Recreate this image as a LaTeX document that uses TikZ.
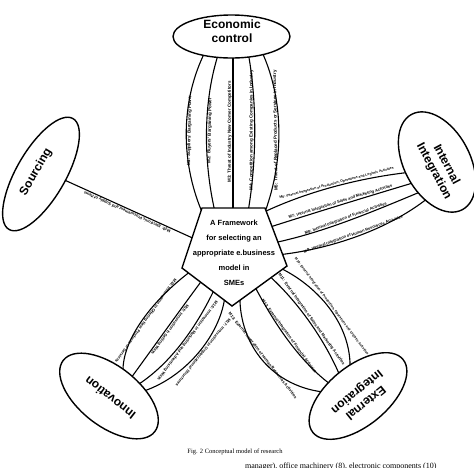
\documentclass[tikz,border=0pt]{standalone}
\usepackage{fontspec}
\setmainfont{Liberation Serif}
\setsansfont{Liberation Sans}
\usetikzlibrary{shapes.geometric}
\tikzset{
  petal/.style={draw, ellipse, line width=1.4pt, fill=white, inner sep=0pt},
  ptxt/.style={font=\sffamily\bfseries\fontsize{12}{14}\selectfont, align=center, inner sep=0pt},
  link/.style={line width=1.1pt},
  lab/.style={font=\sffamily\bfseries\fontsize{4}{4}\selectfont, sloped, allow upside down, inner sep=0.6pt},
  labe/.style={lab, font=\sffamily\bfseries\fontsize{4.5}{4.5}\selectfont},
  labs/.style={lab, font=\sffamily\bfseries\fontsize{3.4}{3.4}\selectfont},
}
\begin{document}
\begin{tikzpicture}[x=1pt,y=-1pt]
\useasboundingbox (0,0) rectangle (474,467);
% pentagon corners
\coordinate (p1) at (202,208);
\coordinate (p2) at (265,208);
\coordinate (p3) at (287,266);
\coordinate (p4) at (232,306);
\coordinate (p5) at (182,268);
% economic control bundle
\coordinate (e1s) at (202,212); \coordinate (e1e) at (205,52);
\coordinate (e2s) at (215,212); \coordinate (e2e) at (219,52);
\coordinate (e3s) at (233,212); \coordinate (e3e) at (233,52);
\coordinate (e4s) at (248,212); \coordinate (e4e) at (248,52);
\coordinate (e5s) at (265,212); \coordinate (e5e) at (262,52);
% internal integration bundle
\coordinate (i1s) at (262,213); \coordinate (i1e) at (412,172);
\coordinate (i2s) at (267,228); \coordinate (i2e) at (416,182);
\coordinate (i3s) at (273,243); \coordinate (i3e) at (420,192);
\coordinate (i4s) at (277,255); \coordinate (i4e) at (428,198);
% external integration bundle
\coordinate (x1s) at (276,266); \coordinate (x1e) at (350,370);
\coordinate (x2s) at (266,273); \coordinate (x2e) at (340,376);
\coordinate (x3s) at (253,283); \coordinate (x3e) at (330,384);
\coordinate (x4s) at (240,293); \coordinate (x4e) at (323,392);
% innovation bundle
\coordinate (n1s) at (191,271); \coordinate (n1e) at (123,372);
\coordinate (n2s) at (203,279); \coordinate (n2e) at (131,378);
\coordinate (n3s) at (215,288); \coordinate (n3e) at (139,384);
\coordinate (n4s) at (225,295); \coordinate (n4e) at (144,391);
% sourcing
\coordinate (s1s) at (197,240); \coordinate (s1e) at (60,178);

% ---- connectors
\draw[link] (e1s) .. controls (180,160) and (181,100) .. (e1e) node[labe, midway, below]{M1: Suppliers' Bargaining Power};
\draw[link] (e2s) .. controls (203,160) and (203,100) .. (e2e) node[labe, midway, below]{M2: Buyers' Bargaining Power};
\draw[link] (e3s) -- (e3e) node[labe, midway, above]{M3: Threat of Industry New Comer Competitors};
\draw[link] (e4s) .. controls (257,160) and (257,100) .. (e4e) node[labe, midway, above]{M4: Competition among Existing Companies in Industry};
\draw[link] (e5s) .. controls (284,160) and (284,100) .. (e5e) node[labe, midway, above]{M5: Threat of Replaced Products or Services in Industry};

\draw[link] (i1s) .. controls (310,190) and (365,177) .. (i1e) node[labs, midway, above]{M6: Internal Integration of Production, Operations and Logistic Activities};
\draw[link] (i2s) .. controls (317,212) and (366,197) .. (i2e) node[lab, midway, above]{M7: Internal Integration of Sales and Marketing Activities};
\draw[link] (i3s) .. controls (322,233) and (372,212) .. (i3e) node[lab, midway, above]{M8: Internal Integration of Financial Activities};
\draw[link] (i4s) .. controls (325,250) and (385,232) .. (i4e) node[lab, midway, above]{M9: Internal Integration of Human Resources Activities};

\draw[link] (x1s) .. controls (318,285) and (352,325) .. (x1e) node[labs, midway, above]{M10: External Integration of Production, Operations and Logistic Activities};
\draw[link] (x2s) .. controls (297,300) and (325,340) .. (x2e) node[lab, midway, above]{M11: External Integration of Sales and Marketing Activities};
\draw[link] (x3s) .. controls (272,320) and (298,360) .. (x3e) node[lab, midway, above]{M12: External Integration of Financial Activities};
\draw[link] (x4s) .. controls (238,340) and (268,385) .. (x4e) node[lab, midway, above]{M13: External Integration of Human Resources Activities};

\draw[link] (n1s) .. controls (155,298) and (122,338) .. (n1e) node[lab, midway, above]{M14: Innovation in Offering New Products or Services};
\draw[link] (n2s) .. controls (180,310) and (155,345) .. (n2e) node[lab, midway, above]{M15: Innovation in Selling Ways};
\draw[link] (n3s) .. controls (200,320) and (175,360) .. (n3e) node[lab, midway, above]{M16: Innovation in Marketing and Advertising Ways};
\draw[link] (n4s) .. controls (222,330) and (190,375) .. (n4e) node[lab, midway, above]{M17: Innovation in Organizational Structures};

\draw[link] (s1s) -- (s1e) node[lab, midway, above]{M18: Electronic Procurement and Supply of Items};

% ---- central pentagon
\draw[line width=1.4pt, fill=white] (p1) -- (p2) -- (p3) -- (p4) -- (p5) -- cycle;
\node[font=\sffamily\bfseries\fontsize{7.5}{15}\selectfont, align=center, inner sep=0pt] (fw) at (234,253)
  {A Framework\\for selecting an\\appropriate e.business\\model in\\SMEs};

% ---- petals
\node[petal, minimum width=117pt, minimum height=43pt] (econ) at (231.5,36.5) {};
\node[ptxt] (econT) at (232,31) {Economic\\control};

\node[petal, rotate=60, minimum width=128pt, minimum height=49pt] (src) at (41,174) {};
\node[ptxt, rotate=60] (srcT) at (36,172) {Sourcing};

\node[petal, rotate=-62, minimum width=108pt, minimum height=66pt] (intg) at (437,162) {};
\node[ptxt, rotate=-62] (intgT) at (440,168) {Internal\\Integration};

\node[petal, rotate=39, minimum width=116pt, minimum height=60pt] (extg) at (358,396) {};
\node[ptxt, rotate=219] (extgT) at (361,397) {External\\Integration};

\node[petal, rotate=142, minimum width=116pt, minimum height=60pt] (innov) at (109,396) {};
\node[ptxt, rotate=142] (innovT) at (110,398) {Innovation};

% ---- caption and cut-off page text
\node[font=\rmfamily\fontsize{6.5}{7}\selectfont, inner sep=0pt] (cap) at (235,452) {Fig. 2 Conceptual model of research};
\node[font=\rmfamily\fontsize{8}{9}\selectfont, inner sep=0pt, anchor=base west] (cut) at (245,468.5) {manager), office machinery (8), electronic components (10)};
\end{tikzpicture}
\end{document}
